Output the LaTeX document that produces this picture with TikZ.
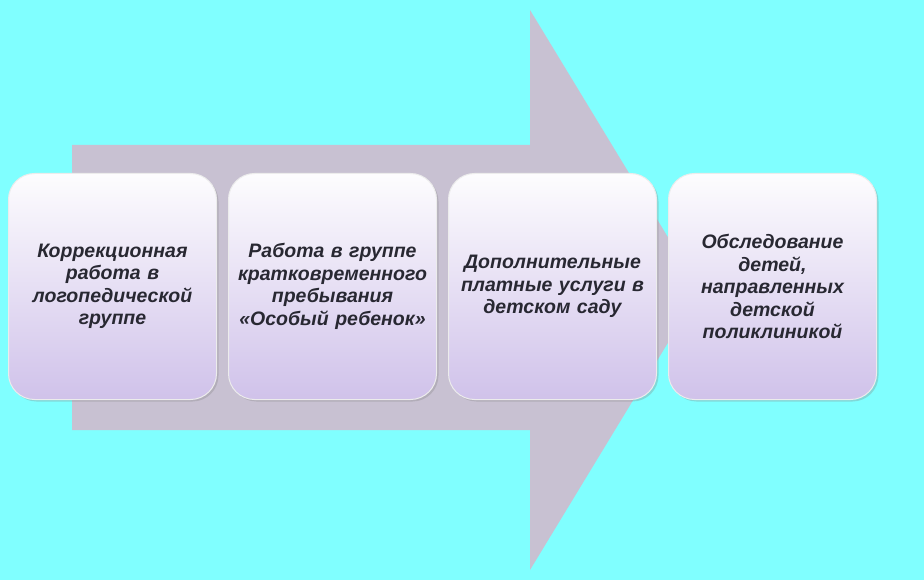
\documentclass[tikz,border=0pt]{standalone}
\usepackage{fontspec}
\setmainfont{Liberation Sans}
\usetikzlibrary{shadows}
\definecolor{bgc}{RGB}{128,255,255}
\definecolor{arr}{RGB}{200,193,210}
\definecolor{boxbot}{RGB}{208,194,234}
\definecolor{txt}{RGB}{40,40,50}
\tikzset{
  stage/.style={rounded corners=26pt, minimum width=208pt, minimum height=226pt,
    draw=white!85!gray, line width=1pt, top color=white!96!boxbot, bottom color=boxbot,
    drop shadow={opacity=0.3,shadow xshift=2pt,shadow yshift=-2pt},
    align=center, text=txt, font=\fontsize{19.5}{22.5}\selectfont\bfseries\itshape,
    text width=196pt, anchor=north west}
}
\begin{document}
\begin{tikzpicture}[x=1pt,y=-1pt]
\fill[bgc] (0,0) rectangle (924,580);
\useasboundingbox (0,0) rectangle (924,580);
\fill[arr] (72,145) -- (530,145) -- (530,10) -- (700,290) -- (530,570) -- (530,430) -- (72,430) -- cycle;
\node[stage] (b1) at (8,173) {Коррекционная\\работа в\\логопедической\\группе};
\node[stage] (b2) at (228,173) {Работа в группе\\кратковременного\\пребывания\\«Особый ребенок»};
\node[stage] (b3) at (448,173) {Дополнительные\\платные услуги  в\\детском саду};
\node[stage] (b4) at (668,173) {Обследование\\детей,\\направленных\\детской\\поликлиникой};
\end{tikzpicture}
\end{document}
